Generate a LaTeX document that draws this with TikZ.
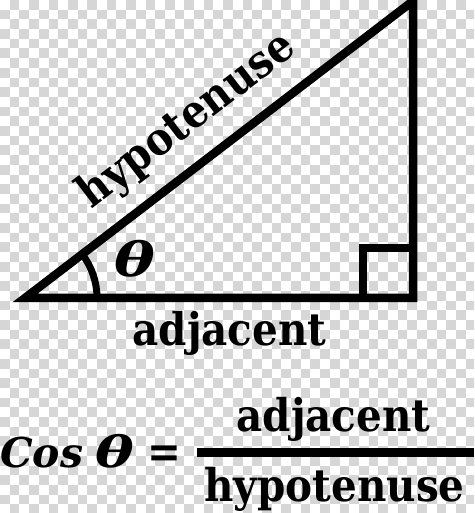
\documentclass[tikz,border=0pt]{standalone}
\usepackage{graphicx}
\usepackage{fontspec}
\setmainfont{DejaVu Serif Condensed}
\newfontfamily\widefont{DejaVu Serif}
\begin{document}
\begin{tikzpicture}[x=1pt,y=1pt,
  checker/.style={fill=black!16},
  edge/.style={line width=8.5pt,line join=miter,miter limit=20},
  lbl/.style={inner sep=0pt,anchor=base,font=\fontsize{45}{45}\selectfont\bfseries},
  ital/.style={inner sep=0pt,anchor=base,font=\widefont\fontsize{41}{41}\selectfont\bfseries\itshape}]
\useasboundingbox (0,0) rectangle (474,513);
\begin{scope}
\clip (0,0) rectangle (474,513);
\fill[white] (0,0) rectangle (474,513);
\foreach \i in {0,...,48}{
  \foreach \j in {0,...,52}{
    \pgfmathtruncatemacro\chkpar{mod(\i+\j,2)}
    \ifnum\chkpar=1 \fill[checker] ({\i*9.7},{513-(\j+1)*9.7}) rectangle ++(9.7,9.7);\fi
  }
}
% triangle
\coordinate (A) at (25,215);
\coordinate (B) at (413,215);
\coordinate (C) at (413,512);
\draw[edge] (A) -- (B) -- (C) -- cycle;
% right angle
\coordinate (R1) at (363,215);
\coordinate (R2) at (363,265);
\coordinate (R3) at (413,265);
\draw[line width=8pt] (R1) -- (R2) -- (R3);
% angle arc
\coordinate (S) at (97,215);
\draw[line width=7pt] (S) arc[start angle=0,end angle=37.4,radius=72];
\node[ital,font=\widefont\fontsize{47}{47}\selectfont\bfseries\itshape] (th) at (135,236) {\scalebox{1.3}[1]{θ}};
% labels
\node[lbl,rotate=37.4] (hyp) at (195,382) {hypotenuse};
\node[lbl] (adj) at (229.5,167) {adjacent};
% formula
\node[ital,anchor=base west] (cos) at (0,45) {Cos};
\node[ital,anchor=base,font=\widefont\fontsize{43}{43}\selectfont\bfseries\itshape] (th2) at (115,45) {\scalebox{1.35}[1]{θ}};
\node[lbl,anchor=base] (eq) at (164.5,45) {=};
\node[lbl] (num) at (333.5,81) {adjacent};
\coordinate (F1) at (197,60);
\coordinate (F2) at (474,60);
\draw[line width=9pt] (F1) -- (F2);
\node[lbl] (den) at (334.5,12) {hypotenuse};
\end{scope}
\end{tikzpicture}
\end{document}
